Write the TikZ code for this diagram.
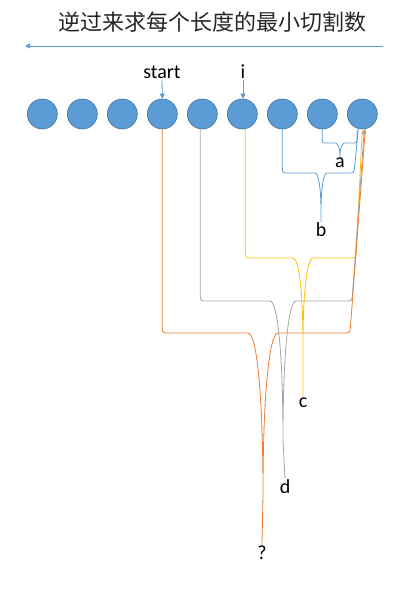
\documentclass[tikz,border=0pt]{standalone}
\usepackage{fontspec}
\setmainfont{Carlito}
\newfontfamily\cjk{Noto Sans CJK SC}
\usetikzlibrary{arrows.meta}
\definecolor{pptblue}{RGB}{91,155,213}
\definecolor{pptborder}{RGB}{65,113,156}
\definecolor{pptorange}{RGB}{237,125,49}
\definecolor{pptgray}{RGB}{165,165,165}
\definecolor{pptyellow}{RGB}{255,192,0}
\tikzset{
  cell/.style={circle,fill=pptblue,draw=pptborder,line width=0.6pt,minimum size=30pt,inner sep=0pt},
  lbl/.style={font=\fontsize{20}{20}\selectfont,inner sep=1pt},
  ptr/.style={pptblue,line width=0.8pt,-{Triangle[width=5pt,length=5pt]}},
  brace/.style={line width=0.8pt},
}
\begin{document}
\begin{tikzpicture}[x=1pt,y=-1pt]
  \useasboundingbox (0,0) rectangle (415,591);
  \node[font=\cjk\fontsize{22}{22}\selectfont,text=black!85] (title) at (212,22) {逆过来求每个长度的最小切割数};
  \coordinate (arrR) at (383,46);
  \coordinate (arrL) at (25,46);
  \draw[ptr] (arrR) -- (arrL);

  \foreach \k in {1,...,9}
    \node[cell] (c\k) at ({2.3+40*\k},114) {};

  \node[lbl] (start) at (162,72) {start};
  \node[lbl] (i) at (243,72) {i};
  \draw[ptr] (start.south) -- (c4.north);
  \draw[ptr] (i.south) -- (i.south |- c6.north);

  \node[lbl] (a) at (340,163) {a};
  \node[lbl] (b) at (321,230) {b};
  \node[lbl] (c) at (303,403) {c};
  \node[lbl] (d) at (285,487) {d};
  \node[lbl] (q) at (262,553) {?};

  % a and b
  \draw[brace,pptblue] (c8.south) -- (c8.south |- 0,138) .. controls (c8.south |- 0,143) .. (327,143) -- (335,143)
    .. controls (337.7,143) and (340,147) .. (a.north)
    (a.north) .. controls (340,147) and (342.3,143) .. (345,143)
    -- (352,143) .. controls (357,143) .. (357,138) -- ([xshift=-5pt]c9.south);
  \draw[brace,pptblue] (c7.south) -- (c7.south |- 0,167) .. controls (c7.south |- 0,173) .. (288,173) -- (315,173)
    .. controls (318.3,173) and (321,186.7) .. (321,212) -- (b.north)
    (b.north) -- (321,212) .. controls (321,186.7) and (323.7,173) .. (327,173)
    -- (348,173) .. controls (354,173) .. (354.6,167) -- ([xshift=-4pt]c9.south);
  % c
  \draw[brace,pptyellow] ([xshift=3pt]c6.south) -- ([xshift=3pt]c6.south |- 0,251) .. controls ([xshift=3pt]c6.south |- 0,258) .. (252,258) -- (293,258)
    .. controls (298.5,258) and (303,288.5) .. (303,345) -- (c.north)
    (c.north) -- (303,345) .. controls (303,288.5) and (307.5,258) .. (313,258)
    -- (349,258) .. controls (356,258) .. (356.3,251) -- (c9.south);
  % d
  \draw[brace,pptgray,-{Triangle[width=5pt,length=5pt]}] ([xshift=-2pt]c5.south) -- ([xshift=-2pt]c5.south |- 0,294) .. controls ([xshift=-2pt]c5.south |- 0,301) .. (207,301) -- (270,301)
    .. controls (277.2,301) and (283,349.7) .. (283,440) -- (d.north)
    (d.north) -- (283,440) .. controls (283,349.7) and (288.8,301) .. (296,301)
    -- (345,301) .. controls (352,301) .. (352.5,294) -- ([xshift=2pt]c9.south);
  % ?
  \draw[brace,pptorange] (c4.south) -- (c4.south |- 0,326) .. controls (c4.south |- 0,333) .. (169,333) -- (248,333)
    .. controls (256.3,333) and (263,389.7) .. (263,495) -- (q.north)
    (q.north) -- (263,495) .. controls (263,389.7) and (269.7,333) .. (278,333)
    -- (343,333) .. controls (350,333) .. (350.5,326) -- ([xshift=3pt]c9.south);
\end{tikzpicture}
\end{document}
